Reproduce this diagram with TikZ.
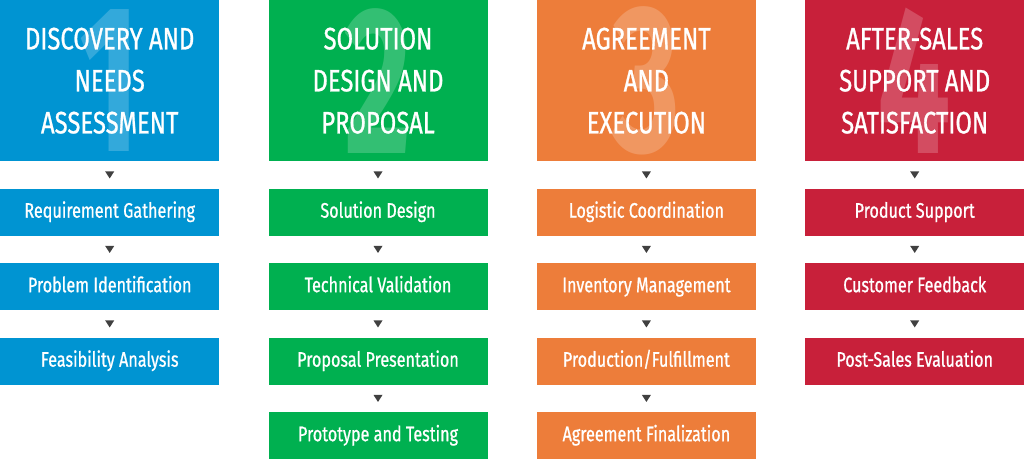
\documentclass[tikz,border=0pt]{standalone}
\usepackage{fontspec}
\setmainfont{Fira Sans}[FakeStretch=0.77,FakeBold=0.8]
\newfontfamily\numfont{Fira Sans}[FakeStretch=0.62]
\usetikzlibrary{calc}
\definecolor{cblue}{RGB}{0,148,210}
\definecolor{cgreen}{RGB}{0,176,80}
\definecolor{corange}{RGB}{237,125,58}
\definecolor{cred}{RGB}{200,32,58}
\definecolor{arrowc}{RGB}{64,64,64}
\tikzset{
  headbox/.style={fill=#1, minimum width=219pt, minimum height=161pt, inner sep=0pt, anchor=north west},
  headtext/.style={text=white, align=center, inner sep=0pt, font=\fontsize{31}{42}\selectfont},
  numeral/.style={text=white, text opacity=0.2, inner sep=0pt, font=\numfont\bfseries\fontsize{210}{210}\selectfont},
  subbox/.style={fill=#1, minimum width=219pt, minimum height=47pt, inner sep=0pt, anchor=north west,
    text=white, text height=15pt, text depth=4pt, font=\fontsize{21}{25}\selectfont},
  tri/.style={fill=arrowc}
}
\newcommand{\tridown}[2]{\fill[tri] ($(#1.south)!0.5!(#2.north)$) +(-4.5,3.5) -- +(4.5,3.5) -- +(0,-3.5) -- cycle;}
\begin{document}
\begin{tikzpicture}[x=1pt,y=1pt]
\useasboundingbox (0,0) rectangle (1024,-458);
% column 1
\node[headbox=cblue] (h1) at (0,0) {};
\node[numeral] (n1) at (h1.center) {1};
\node[headtext] (t1) at (h1.center) {DISCOVERY AND\\NEEDS\\ASSESSMENT};
\node[subbox=cblue] (a1) at (0,-188.5) {Requirement Gathering};
\node[subbox=cblue] (a2) at (0,-263) {Problem Identification};
\node[subbox=cblue] (a3) at (0,-337.5) {Feasibility Analysis};
\tridown{h1}{a1}\tridown{a1}{a2}\tridown{a2}{a3}
% column 2
\node[headbox=cgreen] (h2) at (268.3,0) {};
\node[numeral] (n2) at (h2.center) {2};
\node[headtext] (t2) at (h2.center) {SOLUTION\\DESIGN AND\\PROPOSAL};
\node[subbox=cgreen] (b1) at (268.3,-188.5) {Solution Design};
\node[subbox=cgreen] (b2) at (268.3,-263) {Technical Validation};
\node[subbox=cgreen] (b3) at (268.3,-337.5) {Proposal Presentation};
\node[subbox=cgreen] (b4) at (268.3,-412) {Prototype and Testing};
\tridown{h2}{b1}\tridown{b1}{b2}\tridown{b2}{b3}\tridown{b3}{b4}
% column 3
\node[headbox=corange] (h3) at (536.7,0) {};
\node[numeral] (n3) at (h3.center) {3};
\node[headtext] (t3) at (h3.center) {AGREEMENT\\AND\\EXECUTION};
\node[subbox=corange] (c1) at (536.7,-188.5) {Logistic Coordination};
\node[subbox=corange] (c2) at (536.7,-263) {Inventory Management};
\node[subbox=corange] (c3) at (536.7,-337.5) {Production/Fulfillment};
\node[subbox=corange] (c4) at (536.7,-412) {Agreement Finalization};
\tridown{h3}{c1}\tridown{c1}{c2}\tridown{c2}{c3}\tridown{c3}{c4}
% column 4
\node[headbox=cred] (h4) at (805,0) {};
\node[numeral] (n4) at (h4.center) {4};
\node[headtext] (t4) at (h4.center) {AFTER-SALES\\SUPPORT AND\\SATISFACTION};
\node[subbox=cred] (d1) at (805,-188.5) {Product Support};
\node[subbox=cred] (d2) at (805,-263) {Customer Feedback};
\node[subbox=cred] (d3) at (805,-337.5) {Post-Sales Evaluation};
\tridown{h4}{d1}\tridown{d1}{d2}\tridown{d2}{d3}
\end{tikzpicture}
\end{document}
